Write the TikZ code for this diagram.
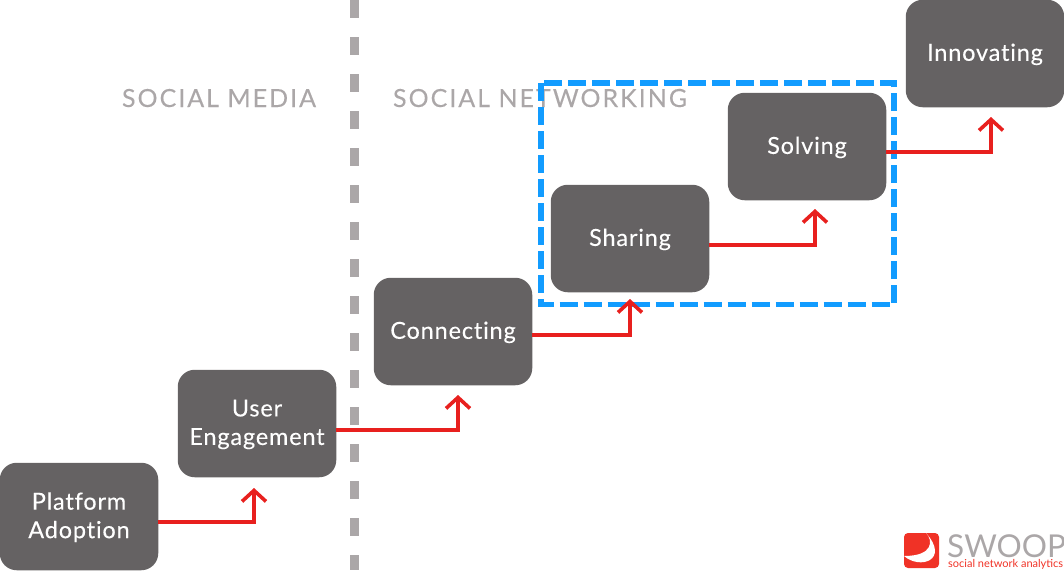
\documentclass[tikz,border=0pt]{standalone}
\usepackage{fontspec}
\setmainfont{Lato}
\newfontfamily\boxfont[LetterSpace=3.5,FakeBold=0.15,Ligatures=NoCommon]{Lato}
\newfontfamily\sidefont[LetterSpace=8,FakeBold=0.15,Ligatures=NoCommon]{Lato}
\usetikzlibrary{positioning,calc,arrows.meta}
\definecolor{boxgray}{HTML}{656263}
\definecolor{sidegray}{HTML}{ABA7A8}
\definecolor{flowred}{HTML}{E8201E}
\definecolor{frameblue}{HTML}{129CFF}
\definecolor{logored}{HTML}{F03226}
\begin{document}
\begin{tikzpicture}[
	x=1pt, y=-1pt,
	box/.style = {rectangle, rounded corners=17pt, fill=boxgray, text=white,
		minimum width=158.5pt, minimum height=107.5pt, inner sep=0pt, text depth=2.5pt,
		align=center, font=\boxfont\fontsize{23.5}{28.5}\selectfont},
	flow/.style = {line width=3.6pt, flowred, -{Straight Barb[length=11pt,width=24pt,line width=3.6pt]}},
	side/.style = {text=sidegray, inner sep=0pt, font=\sidefont\fontsize{25}{30}\selectfont},
	]
	\useasboundingbox (0,0) rectangle (1064,570);
	
	% divider and labels
	\coordinate (divtop) at (354.5,0);
	\coordinate (divbot) at (354.5,570);
	\draw[line width=8.5pt, sidegray, dash pattern=on 18pt off 19pt] (divtop) -- (divbot);
	\node[side, anchor=base] (media) at (219,107) {SOCIAL MEDIA};
	\node[side, anchor=base] (networking) at (540,107) {SOCIAL NETWORKING};
	
	\begin{scope}[every node/.append style={box}]
	
	\node (platform) at (79,516.5) {Platform\\Adoption};
	
	\node (user) at (257,423.5) {User\\Engagement};
	
	\node (connecting) at (453,331.5) {Connecting};
	
	\node (sharing) at (630,238.5) {Sharing};
	
	\node (solving) at (807,146.5) {Solving};
	
	\node (innovating) at (985,53.5) {Innovating};
	
	\end{scope}
	
	% blue frame
	\coordinate (frametl) at (541,83);
	\coordinate (framebr) at (894,304.5);
	\draw[line width=5.5pt, frameblue, dash pattern=on 18pt off 6pt] (frametl) rectangle (framebr);
	
	% arrow ends
	\coordinate (tipa) at (254,488);
	\coordinate (tipb) at (458,395);
	\coordinate (tipc) at (630,299);
	\coordinate (tipd) at (815,209);
	\coordinate (tipe) at (991,117);
	
	\draw[flow] ([yshift=-5.5pt]platform.east) -| (tipa);
	\draw[flow] ([yshift=-6.5pt]user.east) -| (tipb);
	\draw[flow] ([yshift=-3.5pt]connecting.east) -| (tipc);
	\draw[flow] ([yshift=-6.5pt]sharing.east) -| (tipd);
	\draw[flow] ([yshift=-5.5pt]solving.east) -| (tipe);
	
	% logo
	\fill[logored, rounded corners=4pt] (904,533) rectangle (939,568);
	\fill[white] (926,533) .. controls (933,540) and (934,556) .. (904,556)
		.. controls (920,570) and (950,560) .. (926,533);
	\node[anchor=base west, inner sep=0pt, text=sidegray, font=\fontsize{31.5}{32}\selectfont] (swoop) at (947,557) {SWOOP};
	\node[anchor=base west, inner sep=0pt, text=logored, font=\fontsize{11}{12}\selectfont] (tagline) at (948,567) {social network analytics};
\end{tikzpicture}
\end{document}
